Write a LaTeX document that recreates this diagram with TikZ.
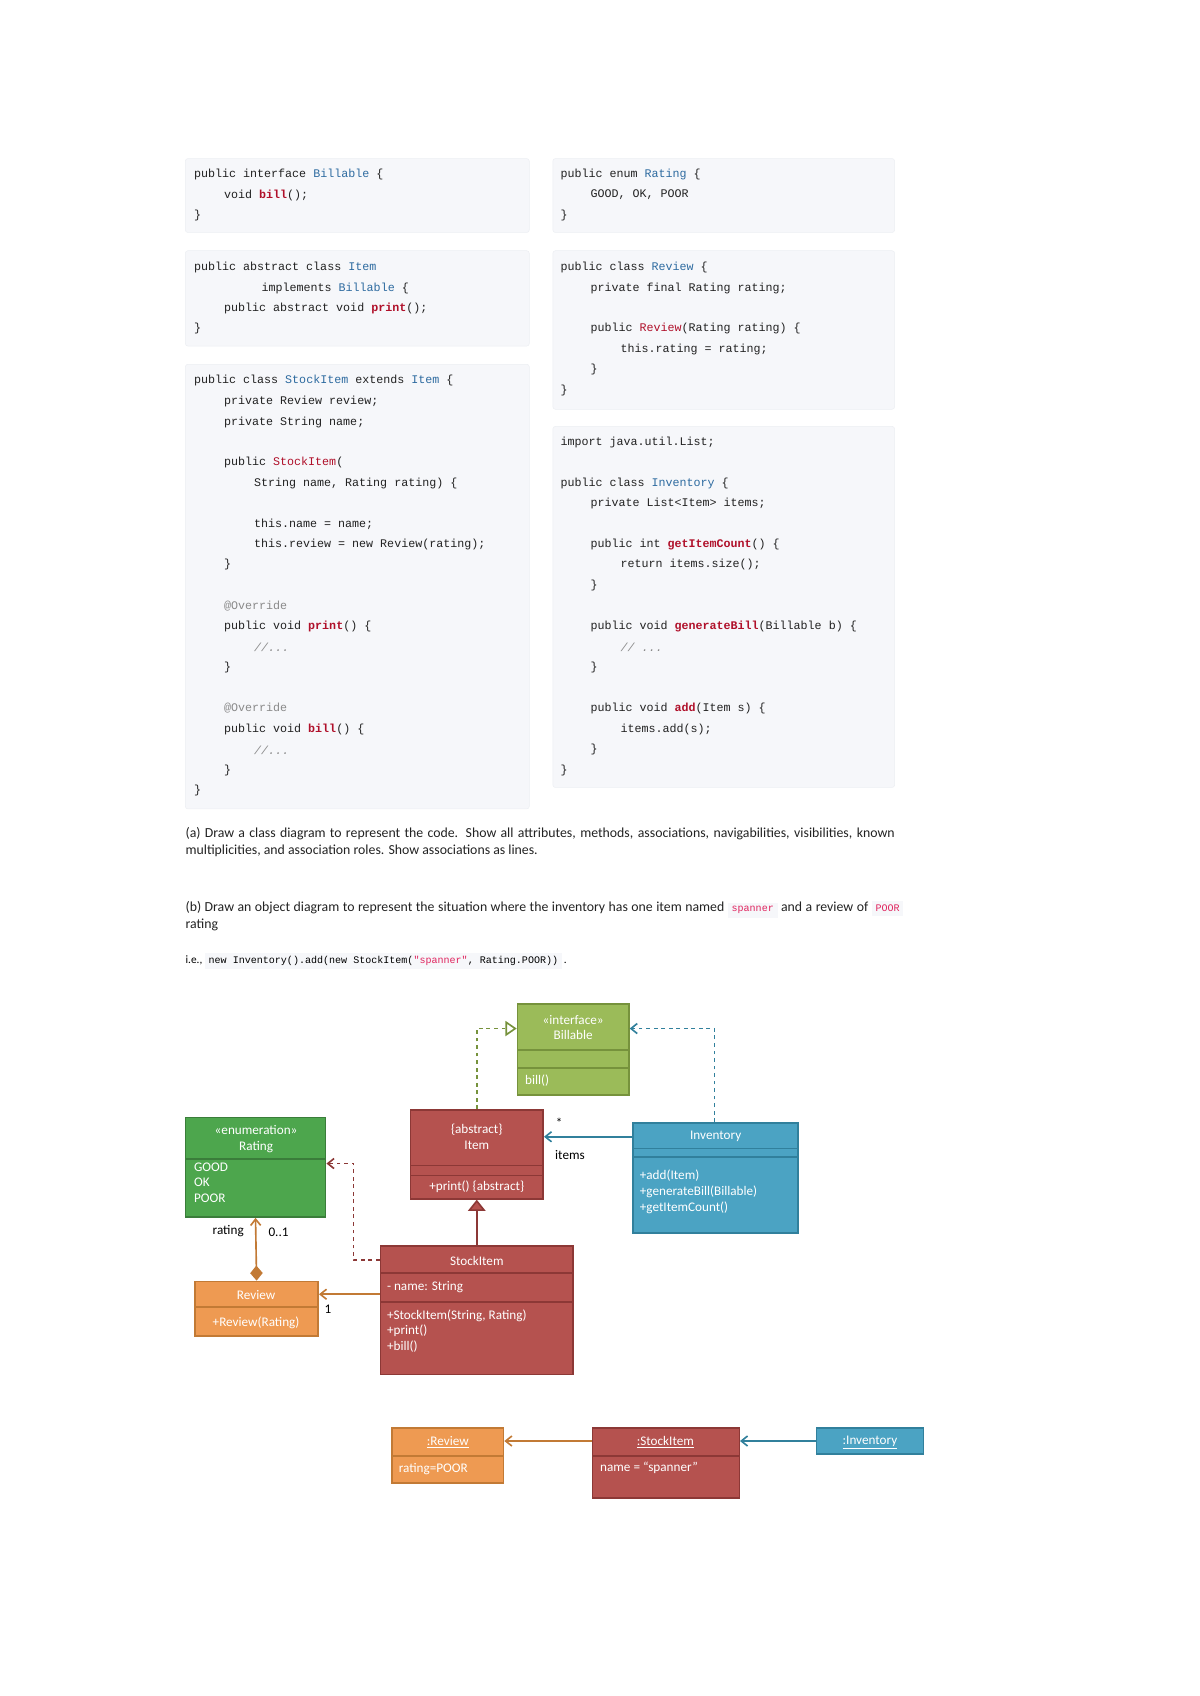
\documentclass[tikz,border=0pt]{standalone}
\usepackage{fontspec}
\setmainfont{Carlito}
\setmonofont{Liberation Mono}
\usetikzlibrary{fit,arrows.meta}
\definecolor{cname}{HTML}{2E6BA0}
\definecolor{cmeth}{HTML}{B0102A}
\definecolor{ccom}{HTML}{8A8A8A}
\definecolor{ckw}{HTML}{222222}
\definecolor{codebg}{HTML}{F6F7FA}
\definecolor{codebd}{HTML}{ECEEF2}
\definecolor{lgreen}{HTML}{9BBB59}\definecolor{lgreenb}{HTML}{76923C}
\definecolor{dgreen}{HTML}{4DA64D}\definecolor{dgreenb}{HTML}{3A7D3A}
\definecolor{ured}{HTML}{B5524F}\definecolor{uredb}{HTML}{8C3836}
\definecolor{ublue}{HTML}{4BA3C3}\definecolor{ublueb}{HTML}{31809C}
\definecolor{uor}{HTML}{EE9A52}\definecolor{uorb}{HTML}{C27A35}
\definecolor{pink}{HTML}{E0245E}
\newcommand\cN[1]{\textcolor{cname}{#1}}
\newcommand\cM[1]{\textcolor{cmeth}{#1}}
\newcommand\cC[1]{\textcolor{ccom}{#1}}
\tikzset{
 codebox/.style={fill=codebg,draw=codebd,rounded corners=2pt,inner sep=0},
 cl/.style={anchor=west,inner sep=0,font=\ttfamily\fontsize{9.3}{11}\selectfont,text=ckw},
 umlb/.style={inner sep=0,line width=1.2pt},
 ut/.style={text=white,inner sep=0,font=\fontsize{10.5}{12.5}\selectfont},
 ul/.style={line width=1.2pt},
 lab/.style={inner sep=0,font=\fontsize{10.5}{12.5}\selectfont}
}
\newcommand\ubox[7]{%
 \path (#2,#3) coordinate (#1-nw) (#4,#5) coordinate (#1-se);
 \node[umlb,fit=(#1-nw)(#1-se),fill=#6,draw=#7] (#1) {};}
\newcommand\hl[5]{\draw[ul,draw=#5] (#1,#3) -- (#2,#3);}
\begin{document}
\begin{tikzpicture}[x=0.03cm,y=-0.03cm]
\useasboundingbox (0,0) rectangle (1120,1583);
% ---------- code boxes
\node[codebox,fit={(173,148)(494,217)}] (b1) {};
\node[codebox,fit={(516,148)(835,217)}] (b2) {};
\node[codebox,fit={(173,234)(494,323)}] (b3) {};
\node[codebox,fit={(516,234)(835,382)}] (b4) {};
\node[codebox,fit={(173,340)(494,755)}] (b5) {};
\node[codebox,fit={(516,398)(835,735)}] (b6) {};
\def\L{181}\def\LL{209}\def\LLL{237}\def\LLLL{265}
\def\R{523}\def\RR{551}\def\RRR{579}
\node[cl] at (\L,163) {public interface \cN{Billable} \{};
\node[cl] at (\LL,182) {void \cM{\textbf{bill}}();};
\node[cl] at (\L,201) {\}};
\node[cl] at (\R,163) {public enum \cN{Rating} \{};
\node[cl] at (\RR,182) {GOOD, OK, POOR};
\node[cl] at (\R,201) {\}};
\node[cl] at (\L,250) {public abstract class \cN{Item}};
\node[cl] at (244,269) {implements \cN{Billable} \{};
\node[cl] at (\LL,288) {public abstract void \cM{\textbf{print}}();};
\node[cl] at (\L,307) {\}};
\node[cl] at (\R,250) {public class \cN{Review} \{};
\node[cl] at (\RR,269) {private final Rating rating;};
\node[cl] at (\RR,307) {public \cM{Review}(Rating rating) \{};
\node[cl] at (\RRR,326) {this.rating = rating;};
\node[cl] at (\RR,345) {\}};
\node[cl] at (\R,364) {\}};
\node[cl] at (\L,355) {public class \cN{StockItem} extends \cN{Item} \{};
\node[cl] at (\LL,375) {private Review review;};
\node[cl] at (\LL,394) {private String name;};
\node[cl] at (\LL,432) {public \cM{StockItem}(};
\node[cl] at (\LLL,451) {String name, Rating rating) \{};
\node[cl] at (\LLL,489) {this.name = name;};
\node[cl] at (\LLL,508) {this.review = new Review(rating);};
\node[cl] at (\LL,527) {\}};
\node[cl] at (\LL,566) {\cC{@Override}};
\node[cl] at (\LL,585) {public void \cM{\textbf{print}}() \{};
\node[cl] at (\LLL,604) {\cC{\itshape //...}};
\node[cl] at (\LL,623) {\}};
\node[cl] at (\LL,661) {\cC{@Override}};
\node[cl] at (\LL,681) {public void \cM{\textbf{bill}}() \{};
\node[cl] at (\LLL,700) {\cC{\itshape //...}};
\node[cl] at (\LL,719) {\}};
\node[cl] at (\L,738) {\}};
\node[cl] at (\R,413) {import java.util.List;};
\node[cl] at (\R,451) {public class \cN{Inventory} \{};
\node[cl] at (\RR,470) {private List<Item> items;};
\node[cl] at (\RR,508) {public int \cM{\textbf{getItemCount}}() \{};
\node[cl] at (\RRR,527) {return items.size();};
\node[cl] at (\RR,546) {\}};
\node[cl] at (\RR,585) {public void \cM{\textbf{generateBill}}(Billable b) \{};
\node[cl] at (\RRR,604) {\cC{\itshape // ...}};
\node[cl] at (\RR,623) {\}};
\node[cl] at (\RR,661) {public void \cM{\textbf{add}}(Item s) \{};
\node[cl] at (\RRR,681) {items.add(s);};
\node[cl] at (\RR,700) {\}};
\node[cl] at (\R,719) {\}};
% ---------- question text
\node[anchor=north west,inner sep=0,text width=662*0.03cm,align=justify,font=\fontsize{11}{13.2}\selectfont,text=ckw] (qa) at (173,772)
 {(a) Draw a class diagram to represent the code. Show all attributes, methods, associations, navigabilities, visibilities, known multiplicities, and association roles. Show associations as lines.};
\node[anchor=north west,inner sep=0,text width=670*0.03cm,align=justify,font=\fontsize{11}{13.2}\selectfont,text=ckw] (qb) at (173,841)
 {(b) Draw an object diagram to represent the situation where the inventory has one item named \colorbox{codebg}{\ttfamily\fontsize{8}{9}\selectfont\textcolor{pink}{spanner}} and a review of \colorbox{codebg}{\ttfamily\fontsize{8}{9}\selectfont\textcolor{pink}{POOR}} rating};
\node[anchor=west,inner sep=0,font=\fontsize{9}{11}\selectfont] (qc) at (173,897)
 {i.e., \colorbox{codebg}{\ttfamily\fontsize{8}{9}\selectfont new Inventory().add(new StockItem(\textcolor{pink}{"spanner"}, Rating.POOR))}\,.};
% ---------- class diagram
\ubox{bill}{483}{937}{587}{1022}{lgreen}{lgreenb}
\hl{483}{587}{980}{}{lgreenb}\hl{483}{587}{997}{}{lgreenb}
\node[ut,align=center] at (535,959) {<<interface>>\\Billable};
\node[ut,anchor=west] at (490,1009) {bill()};
\ubox{rat}{173}{1043}{304}{1136}{dgreen}{dgreenb}
\hl{173}{304}{1082}{}{dgreenb}
\node[ut,align=center] at (239,1063) {<<enumeration>>\\Rating};
\node[ut,anchor=north west,align=left] at (181,1085) {GOOD\\OK\\POOR};
\ubox{item}{383}{1036}{507}{1119}{ured}{uredb}
\hl{383}{507}{1088}{}{uredb}\hl{383}{507}{1097}{}{uredb}
\node[ut,align=center] at (445,1061) {\{abstract\}\\Item};
\node[ut] at (445,1108) {+print() \{abstract\}};
\ubox{inv}{591}{1048}{745}{1151}{ublue}{ublueb}
\hl{591}{745}{1072}{}{ublueb}\hl{591}{745}{1080}{}{ublueb}
\node[ut] at (668,1061) {Inventory};
\node[ut,anchor=north west,align=left] at (597,1092) {+add(Item)\\+generateBill(Billable)\\+getItemCount()};
\ubox{si}{355}{1163}{535}{1283}{ured}{uredb}
\hl{355}{535}{1188}{}{uredb}\hl{355}{535}{1215}{}{uredb}
\node[ut] at (445,1177) {StockItem};
\node[ut,anchor=west] at (361,1201) {- name: String};
\node[ut,anchor=north west,align=left] at (361,1222) {+StockItem(String, Rating)\\+print()\\+bill()};
\ubox{rev}{182}{1196}{297}{1247}{uor}{uorb}
\hl{182}{297}{1220}{}{uorb}
\node[ut] at (239,1209) {Review};
\node[ut] at (239,1235) {+Review(Rating)};
% connectors
\draw[lgreenb,line width=1.3pt,dashed,-{Triangle[open,length=9pt,width=12pt]}] (item.north -| 445,0) |- (bill.west |- 0,960);
\draw[ublueb,line width=1.3pt,dashed,-{Straight Barb[length=5pt,width=8pt]}] (inv.north -| 667,0) |- (bill.east |- 0,960);
\draw[ublueb,line width=1.3pt,-{Straight Barb[length=5pt,width=8pt]}] (inv.west |- 0,1061) -- (item.east |- 0,1061);
\node[lab] at (522,1048) {*};
\node[lab] at (532,1078) {items};
\draw[uredb,line width=1.3pt,-{Triangle[open,length=9pt,width=14pt,fill=ured]}] (si.north -| 445,0) -- (item.south -| 445,0);
\draw[uredb,line width=1.3pt,dashed,-{Straight Barb[length=5pt,width=8pt]}] (si.west |- 0,1176) -| (330,1120) |- (rat.east |- 0,1086);
\draw[uorb,line width=1.3pt,-{Straight Barb[length=5pt,width=8pt]}] (si.west |- 0,1208) -- (rev.east |- 0,1208);
\node[lab] at (306,1222) {1};
\draw[uorb,line width=1.3pt,{Diamond[length=12pt,width=10pt]}-{Straight Barb[length=5pt,width=8pt]}] (rev.north) -- (rat.south);
\node[lab] at (213,1149) {rating};
\node[lab] at (260,1150) {0..1};
% ---------- object diagram
\ubox{orev}{366}{1333}{470}{1384}{uor}{uorb}
\hl{366}{470}{1359}{}{uorb}
\node[ut] at (418,1346) {\underline{:Review}};
\node[ut,anchor=west] at (372,1371) {rating=POOR};
\ubox{osi}{553}{1333}{690}{1398}{ured}{uredb}
\hl{553}{690}{1359}{}{uredb}
\node[ut] at (621,1346) {\underline{:StockItem}};
\node[ut,anchor=west] at (560,1370) {name = “spanner”};
\ubox{oinv}{762}{1333}{862}{1357}{ublue}{ublueb}
\node[ut] at (812,1346) {\underline{:Inventory}};
\draw[uorb,line width=1.3pt,-{Straight Barb[length=5pt,width=8pt]}] (osi.west |- 0,1345) -- (orev.east |- 0,1345);
\draw[ublueb,line width=1.3pt,-{Straight Barb[length=5pt,width=8pt]}] (oinv.west) -- (osi.east |- oinv.west);
\end{tikzpicture}
\end{document}
